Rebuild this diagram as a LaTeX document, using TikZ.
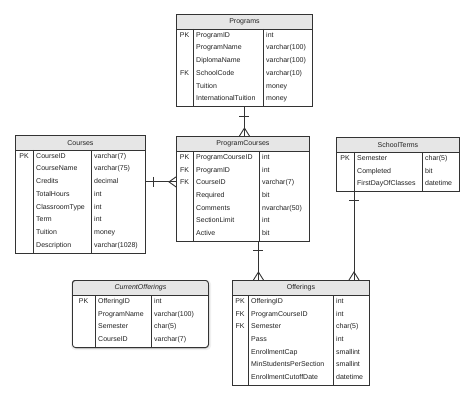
\documentclass[tikz,border=0pt]{standalone}
\usepackage{fontspec}
\setmainfont{Liberation Sans}
\definecolor{erline}{HTML}{333333}
\definecolor{ertitle}{HTML}{E6E6E6}
\definecolor{ertext}{HTML}{222222}
\tikzset{
  erframe/.style={draw=erline, line width=0.9pt, inner sep=0pt},
  ertitlebar/.style={fill=ertitle, draw=erline, line width=0.9pt, inner sep=0pt, text=ertext, font=\fontsize{7pt}{8pt}\selectfont},
  erdiv/.style={draw=erline, line width=0.9pt},
  ercell/.style={inner sep=0pt, text=ertext, font=\fontsize{7pt}{8pt}\selectfont, text height=5pt, text depth=1.4pt},
  erconn/.style={draw=erline, line width=0.9pt},
}
% #1 corner style, #2 name, #3 title, #4 L, #5 T, #6 div1, #7 div2, #8 R, #9 B
\newcommand\ertable[9][sharp corners]{%
  \def\curN{#2}\def\curL{#4}\def\curA{#6}\def\curB{#7}%
  \pgfmathsetmacro\curRz{#5+21.5}%
  \fill[white, #1] (#4,#5) rectangle (#8,#9);
  \begin{scope}
    \clip[#1] (#4,#5) rectangle (#8,#9);
    \node[ertitlebar, anchor=north west, minimum width={(#8-#4)*1pt}, minimum height=15pt] (#2-title) at (#4,#5) {#3};
  \end{scope}
  \node[erframe, #1, anchor=north west, minimum width={(#8-#4)*1pt}, minimum height={(#9-#5)*1pt}] (#2) at (#4,#5) {};
  \draw[erdiv] (#6,#5+15) -- (#6,#9) (#7,#5+15) -- (#7,#9);
}
\newcommand\errow[4]{%
  \pgfmathsetmacro\curY{\curRz+(#1-1)*12.7}%
  \node[ercell] (\curN-#1-k) at ({(\curL+\curA)/2},\curY) {#2};
  \node[ercell, anchor=west] (\curN-#1-f) at ({\curA+3},\curY) {#3};
  \node[ercell, anchor=west] (\curN-#1-t) at ({\curB+3},\curY) {#4};
}
\begin{document}
\begin{tikzpicture}[x=1pt, y=-1pt]
\fill[white] (0,0) rectangle (474,401);
\path[use as bounding box] (0,0) rectangle (474,401);

% Programs
\ertable{prog}{Programs}{176}{14}{193}{263}{312}{106.5}
\errow{1}{PK}{ProgramID}{int}
\errow{2}{}{ProgramName}{varchar(100)}
\errow{3}{}{DiplomaName}{varchar(100)}
\errow{4}{FK}{SchoolCode}{varchar(10)}
\errow{5}{}{Tuition}{money}
\errow{6}{}{InternationalTuition}{money}

% Courses
\ertable{crs}{Courses}{15}{135}{33}{91}{145}{252.9}
\errow{1}{PK}{CourseID}{varchar(7)}
\errow{2}{}{CourseName}{varchar(75)}
\errow{3}{}{Credits}{decimal}
\errow{4}{}{TotalHours}{int}
\errow{5}{}{ClassroomType}{int}
\errow{6}{}{Term}{int}
\errow{7}{}{Tuition}{money}
\errow{8}{}{Description}{varchar(1028)}

% ProgramCourses
\ertable{pc}{ProgramCourses}{176}{136}{193}{259}{309}{241.2}
\errow{1}{PK}{ProgramCourseID}{int}
\errow{2}{FK}{ProgramID}{int}
\errow{3}{FK}{CourseID}{varchar(7)}
\errow{4}{}{Required}{bit}
\errow{5}{}{Comments}{nvarchar(50)}
\errow{6}{}{SectionLimit}{int}
\errow{7}{}{Active}{bit}

% SchoolTerms
\ertable{st}{SchoolTerms}{336}{137}{354}{422}{459}{191.4}
\errow{1}{PK}{Semester}{char(5)}
\errow{2}{}{Completed}{bit}
\errow{3}{}{FirstDayOfClasses}{datetime}

% CurrentOfferings (shadow first)
\fill[black, opacity=0.06, rounded corners=4pt] (71,280) rectangle (211,350);
\fill[black, opacity=0.10, rounded corners=4pt] (72.5,281.5) rectangle (209.5,348.8);
\ertable[rounded corners=3pt]{co}{\itshape CurrentOfferings}{72}{280}{95}{151}{208}{347.1}
\errow{1}{PK}{OfferingID}{int}
\errow{2}{}{ProgramName}{varchar(100)}
\errow{3}{}{Semester}{char(5)}
\errow{4}{}{CourseID}{varchar(7)}

% Offerings
\ertable{off}{Offerings}{232}{280}{248}{333}{369}{385.2}
\errow{1}{PK}{OfferingID}{int}
\errow{2}{FK}{ProgramCourseID}{int}
\errow{3}{FK}{Semester}{char(5)}
\errow{4}{}{Pass}{int}
\errow{5}{}{EnrollmentCap}{smallint}
\errow{6}{}{MinStudentsPerSection}{smallint}
\errow{7}{}{EnrollmentCutoffDate}{datetime}

% Programs -> ProgramCourses
\draw[erconn] (prog.south) -- (prog.south |- pc.north);
\draw[erconn] (prog.south) ++(-5,9) -- ++(10,0);
\draw[erconn] (prog.south |- pc.north) ++(-5,0) -- ++(5,-8) -- ++(5,8);

% Courses -> ProgramCourses
\draw[erconn] (crs.east |- crs-3-k) -- (pc.west |- crs-3-k);
\draw[erconn] (crs.east |- crs-3-k) ++(8,-5) -- ++(0,10);
\draw[erconn] (pc.west |- crs-3-k) ++(0,-5) -- ++(-7,5) -- ++(7,5);

% ProgramCourses -> Offerings
\coordinate (pcx) at ([xshift=15.5pt]pc.south);
\draw[erconn] (pcx) -- (pcx |- off.north);
\draw[erconn] (pcx) ++(-5,8) -- ++(10,0);
\draw[erconn] (pcx |- off.north) ++(-5,0) -- ++(5,-8) -- ++(5,8);

% SchoolTerms -> Offerings
\coordinate (stx) at ([xshift=18pt]st.south west);
\draw[erconn] (stx) -- (stx |- off.north);
\draw[erconn] (stx) ++(-5,8) -- ++(10,0);
\draw[erconn] (stx |- off.north) ++(-5,0) -- ++(5,-8) -- ++(5,8);
\end{tikzpicture}
\end{document}
